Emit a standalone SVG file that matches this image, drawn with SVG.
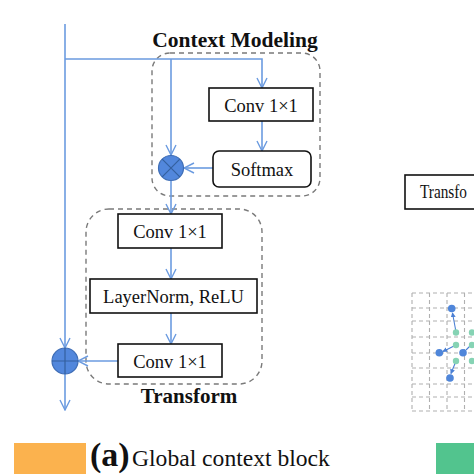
<svg xmlns="http://www.w3.org/2000/svg" width="474" height="474" viewBox="0 0 474 474">
<defs>
<marker id="arr" viewBox="0 0 12 12" refX="11" refY="6" markerWidth="12" markerHeight="12" markerUnits="userSpaceOnUse" orient="auto">
<path d="M1,1 L11,6 L1,11" fill="none" stroke="#6b9be0" stroke-width="1.4"/>
</marker>
<marker id="sarr" viewBox="0 0 6 6" refX="5" refY="3" markerWidth="5" markerHeight="5" markerUnits="userSpaceOnUse" orient="auto">
<path d="M0,0 L6,3 L0,6 Z" fill="#4a7fd4"/>
</marker>
<style>
.ln{fill:none;stroke:#6b9be0;stroke-width:1.6}
.box{fill:#fff;stroke:#111;stroke-width:1.6}
.grp{fill:none;stroke:#7a7a7a;stroke-width:1.4;stroke-dasharray:5 4}
.t{font-family:"Liberation Serif","Times New Roman",serif;font-size:18.5px;fill:#111;text-anchor:middle}
.b{font-family:"Liberation Serif","Times New Roman",serif;font-weight:bold;fill:#111;text-anchor:middle}
.op{fill:#5287dc;stroke:#3e6db5;stroke-width:1.2}
.opl{stroke:#34609f;stroke-width:1.2}
.grid{fill:none;stroke:#b0b0b0;stroke-width:1.1;stroke-dasharray:4 3}
.bd{fill:#4f86da}
.gd{fill:#86d3b4}
.sl{stroke:#4a7fd4;stroke-width:1.1}
</style>
</defs>
<rect width="474" height="474" fill="#fff"/>

<g id="context-modeling">
<rect class="grp" x="152" y="53" width="168" height="143" rx="18"/>
<text class="b" x="235" y="47" font-size="21.5">Context Modeling</text>
</g>
<g id="transform-group">
<rect class="grp" x="86" y="209" width="176" height="175" rx="23"/>
<text class="b" x="189" y="403" font-size="21">Transform</text>
</g>

<g id="connectors">
<path class="ln" d="M65,24 V348" marker-end="url(#arr)"/>
<path class="ln" d="M65,374 V410" marker-end="url(#arr)"/>
<path class="ln" d="M65,59 H262 V88" marker-end="url(#arr)"/>
<path class="ln" d="M171,59 V155" marker-end="url(#arr)"/>
<path class="ln" d="M262,121 V151" marker-end="url(#arr)"/>
<path class="ln" d="M213,168 H184" marker-end="url(#arr)"/>
<path class="ln" d="M171,181 V214" marker-end="url(#arr)"/>
<path class="ln" d="M171,248 V279" marker-end="url(#arr)"/>
<path class="ln" d="M171,313 V344" marker-end="url(#arr)"/>
<path class="ln" d="M118,361 H78" marker-end="url(#arr)"/>
</g>

<g id="conv1">
<rect class="box" x="209" y="88" width="104" height="33"/>
<text class="t" x="261" y="112">Conv 1×1</text>
</g>
<g id="softmax">
<rect class="box" x="213" y="151" width="98" height="36" rx="6"/>
<text class="t" x="262" y="176">Softmax</text>
</g>
<g id="mult">
<circle class="op" cx="171" cy="168" r="12.5"/>
<path class="opl" d="M162.2,159.2 L179.8,176.8 M179.8,159.2 L162.2,176.8"/>
</g>
<g id="conv2">
<rect class="box" x="118" y="214" width="104" height="34"/>
<text class="t" x="170" y="238">Conv 1×1</text>
</g>
<g id="layernorm">
<rect class="box" x="90" y="279" width="167" height="34"/>
<text class="t" x="173.5" y="303">LayerNorm, ReLU</text>
</g>
<g id="conv3">
<rect class="box" x="118" y="344" width="104" height="33"/>
<text class="t" x="170" y="368">Conv 1×1</text>
</g>
<g id="add">
<circle class="op" cx="65" cy="361" r="13"/>
<path class="opl" d="M52,361 H78 M65,348 V374"/>
</g>

<g id="legend-a">
<rect x="14" y="443" width="72" height="31" fill="#fbb24e"/>
<text x="90" y="466" font-family="'Liberation Serif','Times New Roman',serif" font-weight="bold" font-size="34" fill="#111">(a)</text>
<text x="132" y="466" font-family="'Liberation Serif','Times New Roman',serif" font-size="23.6" fill="#111">Global context block</text>
</g>

<g id="right-transform">
<rect class="box" x="405" y="175" width="80" height="34"/>
<text x="420" y="198" font-family="'Liberation Serif','Times New Roman',serif" font-size="18" fill="#111" textLength="47" lengthAdjust="spacingAndGlyphs">Transfo</text>
</g>

<g id="right-grid">
<path class="grid" d="M412,293 H480 M412,308 H480 M412,321 H480 M412,337 H480 M412,353 H480 M412,368 H480 M412,384 H480 M412,397 H480 M412,411 H480 M412,293 V411 M429.5,293 V411 M447,293 V411 M464.5,293 V411"/>
<path class="sl" d="M456,332 L452.5,313" marker-end="url(#sarr)"/>
<path class="sl" d="M456,345 L443,351.5" marker-end="url(#sarr)"/>
<path class="sl" d="M456,361 L451,373.5" marker-end="url(#sarr)"/>
<path class="sl" d="M471,345 L466,350"/>
<circle class="gd" cx="456" cy="332.5" r="3.2"/>
<circle class="gd" cx="472" cy="332.5" r="3.2"/>
<circle class="gd" cx="456" cy="345" r="3.2"/>
<circle class="gd" cx="472" cy="345" r="3.2"/>
<circle class="gd" cx="456" cy="361" r="3.2"/>
<circle class="gd" cx="472" cy="361" r="3.2"/>
<circle class="bd" cx="451.7" cy="308.5" r="3.8"/>
<circle class="bd" cx="439.3" cy="352.7" r="3.8"/>
<circle class="bd" cx="463" cy="352.7" r="3.8"/>
<circle class="bd" cx="450" cy="378" r="3.8"/>
</g>

<g id="legend-b">
<rect x="436" y="443" width="40" height="31" fill="#52c48e"/>
</g>
</svg>
